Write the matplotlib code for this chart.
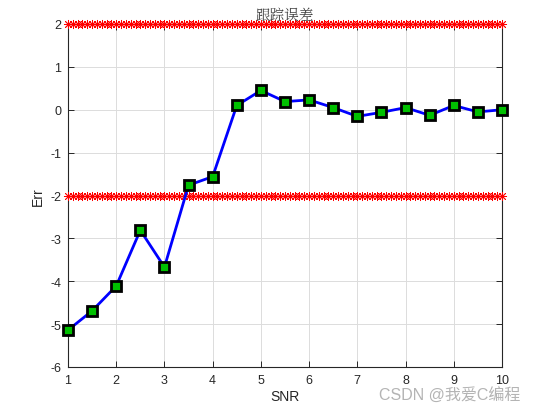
import numpy as np
import matplotlib
matplotlib.use("Agg")
import matplotlib.pyplot as plt

plt.rcParams['font.family'] = ['Liberation Sans', 'Noto Sans CJK SC', 'DejaVu Sans']
plt.rcParams['axes.unicode_minus'] = False

snr = [1, 1.5, 2, 2.5, 3, 3.5, 4, 4.5, 5, 5.5, 6, 6.5, 7, 7.5, 8, 8.5, 9, 9.5, 10]
err = [-5.14, -4.69, -4.11, -2.81, -3.67, -1.76, -1.56, 0.10, 0.45, 0.19, 0.23,
       0.05, -0.155, -0.06, 0.05, -0.13, 0.10, -0.05, 0.0]
bound_x = np.arange(1, 10.0001, 0.1)
upper = 2
lower = -2
xticks = [1, 2, 3, 4, 5, 6, 7, 8, 9, 10]
yticks = [-6, -5, -4, -3, -2, -1, 0, 1, 2]

fig = plt.figure(figsize=(5.37, 4.14), dpi=100)
ax = fig.add_axes([68/537, 1-368/414, (502-68)/537, (368-25)/414])

star = (8, 2, 0)
for yv in (upper, lower):
    ax.plot(bound_x, [yv]*len(bound_x), '-', color='red', marker=star, markersize=6.5,
            linewidth=1, markeredgewidth=0.6, zorder=3, clip_on=False)
ax.plot(snr, err, '-', color='#0000ff', linewidth=2, marker='s', markersize=7,
        markerfacecolor='#00c000', markeredgecolor='black', markeredgewidth=2,
        zorder=4, clip_on=False)

ax.set_xlim(1, 10)
ax.set_ylim(-6, 2)
ax.set_xticks(xticks)
ax.set_yticks(yticks)
ax.grid(True, color='#dcdcdc', linewidth=0.7)
ax.set_axisbelow(True)
ax.tick_params(direction='in', length=4, width=0.7, labelsize=9, colors='#262626',
               top=True, right=True, pad=5)
for s in ax.spines.values():
    s.set_linewidth(0.8)
    s.set_color('#262626')

ax.set_xlabel('SNR', fontsize=10, color='#262626', labelpad=2)
ax.set_ylabel('Err', fontsize=10, color='#262626', labelpad=4)
ax.set_title('跟踪误差', fontsize=10.5, color='#404040',
             family=['Noto Serif CJK SC', 'Noto Sans CJK SC', 'DejaVu Sans'], pad=4)

fig.text(0.705, 0.033, 'CSDN @我爱C编程', fontsize=11.5, color='#b4b4b4',
         family=['Liberation Sans', 'Noto Sans CJK SC', 'DejaVu Sans'])

fig.savefig('out.png', dpi=100)
